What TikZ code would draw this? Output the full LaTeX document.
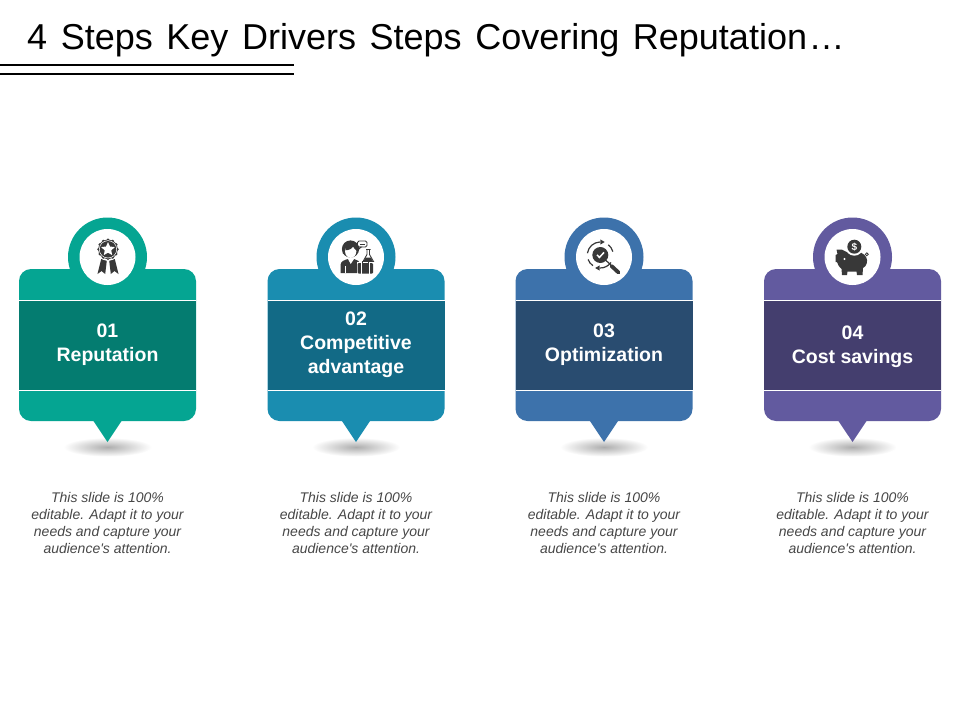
\documentclass[tikz,border=0pt]{standalone}
\usepackage{fontspec}
\usetikzlibrary{calc}
\setmainfont[Ligatures=TeXOff]{Liberation Sans}
\definecolor{tealA}{HTML}{05A592}
\definecolor{tealB}{HTML}{047C70}
\definecolor{blueA}{HTML}{1A8DB0}
\definecolor{blueB}{HTML}{126A86}
\definecolor{steelA}{HTML}{3D72AB}
\definecolor{steelB}{HTML}{294C70}
\definecolor{purpA}{HTML}{625A9F}
\definecolor{purpB}{HTML}{443E6E}
\definecolor{icon}{HTML}{383838}
\tikzset{
  titletext/.style={anchor=base west,inner sep=0pt,font=\fontsize{36}{40}\selectfont,text=black},
  steptext/.style={align=center,inner sep=0pt,text=white,font=\fontsize{19.5}{24}\selectfont\bfseries},
  notetext/.style={align=center,inner sep=0pt,text=black!72,font=\fontsize{14}{17}\selectfont\itshape},
  rulebar/.style={line width=2pt,black},
  iconline/.style={draw=icon,line width=.9pt,fill=none},
}
\begin{document}
\begin{tikzpicture}[x=1pt,y=-1pt]
\useasboundingbox (0,0) rectangle (960,720);
\fill[white] (0,0) rectangle (960,720);
\node[titletext] (title) at (27,49.5) {\spaceskip=13.6pt 4 Steps Key Drivers Steps Covering Reputation\kern1.5pt…};
\coordinate (r1a) at (0,65); \coordinate (r1b) at (294,65);
\coordinate (r2a) at (0,74); \coordinate (r2b) at (294,74);
\draw[rulebar] (r1a) -- (r1b);
\draw[rulebar] (r2a) -- (r2b);
\foreach \i/\cx/\ca/\cb/\lab/\ly in {
  1/107.5/tealA/tealB/{01\\Reputation}/345,
  2/356/blueA/blueB/{02\\Competitive\\advantage}/344.5,
  3/604/steelA/steelB/{03\\Optimization}/345,
  4/852.5/purpA/purpB/{04\\Cost savings}/347}{
  \begin{scope}[shift={(\cx,0)}]
    \shade[inner color=black!32,outer color=white] (0,447) ellipse [x radius=44,y radius=9.5];
    \fill[\ca] (0,257) circle [radius=39.5];
    \fill[\ca] (-14.7,420) -- (0,442) -- (14.7,420) -- cycle;
    \fill[\ca,rounded corners=12] (-88.5,269) rectangle (88.5,421);
    \fill[\cb] (-88.5,301) rectangle (88.5,390);
    \draw[white,line width=1.6pt] (-88.5,300.5) -- (88.5,300.5);
    \draw[white,line width=1pt] (-88.5,390.5) -- (88.5,390.5);
    \fill[white] (0,257) circle [radius=28];
    \node[steptext] (label\i) at (0,\ly) {\lab};
    \node[notetext] (note\i) at (0,522.5) {This slide is 100\%\\editable. Adapt it to your\\needs and capture your\\audience's attention.};
  \end{scope}
}
% ribbon icon
\begin{scope}[shift={(107.5,257)}]
  \fill[icon] (-6.3,2) -- (-0.7,3.7) -- (-2.3,17) -- (-6,14) -- (-10,17) -- cycle;
  \fill[icon] (7.3,2) -- (1.7,3.7) -- (3.3,17) -- (7,14) -- (11,17) -- cycle;
  \fill[white] (0.5,-7.7) circle [radius=11.5];
  \foreach \a in {0,30,...,330}{\fill[icon] ($(0.5,-7.7)+(\a:9.4)$) circle [radius=1.5];}
  \fill[icon] (0.5,-7.7) circle [radius=9.8];
  \fill[white] (0.5,-7.7) circle [radius=9];
  \fill[icon] (0.5,-7.7) circle [radius=8.3];
  \begin{scope}[shift={(0.5,-7.7)}]
    \fill[white] (-90:7.2) -- (-54:3.4) -- (-18:7.2) -- (18:3.4) -- (54:7.2) -- (90:3.4) -- (126:7.2) -- (162:3.4) -- (198:7.2) -- (234:3.4) -- cycle;
  \end{scope}
\end{scope}
% person, flask, briefcase icon
\begin{scope}[shift={(356,257)}]
  \fill[icon] (-15.5,16) -- (-15.5,8) .. controls (-15.5,4) and (-11,3) .. (-8,2) -- (-2,2) .. controls (1,3) and (4,4) .. (4.5,7) -- (1.5,7) -- (1.5,16) -- cycle;
  \fill[white] (-8,2) -- (-5.3,7) -- (-2,2) -- cycle;
  \draw[white,line width=.7pt] (-11,9) -- (-11,16);
  \fill[icon] (-5.5,-8) circle [radius=8.6];
  \fill[icon] (-13,-3) -- (-13.5,-9) -- (-9,-5) -- cycle;
  \fill[white] (-5.3,-5.5) ellipse [x radius=5.6,y radius=6.4];
  \fill[icon] (-10.5,-7) .. controls (-8,-6.5) and (-4,-8) .. (-3,-10.5) .. controls (-2,-9) and (-1,-7.5) .. (0,-7) -- (0,-13) -- (-10.5,-13) -- cycle;
  \draw[iconline,rounded corners=1.5] (1.5,-16) rectangle (11,-10) ;
  \fill[icon] (3.5,-10.5) -- (3,-7.5) -- (6.5,-10.5) -- cycle;
  \fill[icon] (4,-13.2) rectangle (8.5,-12.2);
  \draw[iconline] (10,-7.5) -- (14.5,-7.5) (11,-7.5) -- (11,-2.5) -- (7,4.5) -- (17.5,4.5) -- (13.5,-2.5) -- (13.5,-7.5);
  \fill[icon] (9.8,0.5) -- (14.8,0.5) -- (16.8,4.2) -- (7.6,4.2) -- cycle;
  \fill[white] (0.5,5) rectangle (18,17.5);
  \fill[icon,rounded corners=1] (1.5,6.2) rectangle (17,16.5);
  \draw[iconline] (6.5,6.2) -- (6.5,4.5) -- (12,4.5) -- (12,6.2);
  \draw[white,line width=.7pt] (5,6.2) -- (5,16.5) (13.5,6.2) -- (13.5,16.5);
\end{scope}
% magnifier icon
\begin{scope}[shift={(604,257)}]
  \fill[icon] (-3.7,-2) circle [radius=8];
  \draw[white,line width=1.5pt] (-7,-2.2) -- (-4.6,0.4) -- (0,-4.6);
  \draw[icon,line width=1.2pt] (-3.7,-2) ++(-172:13) arc [start angle=-172,end angle=-92,radius=13];
  \draw[icon,line width=1.2pt] (-3.7,-2) ++(-52:13) arc [start angle=-52,end angle=-15,radius=13];
  \draw[icon,line width=1.2pt] (-3.7,-2) ++(35:13) arc [start angle=35,end angle=92,radius=13];
  \draw[icon,line width=1.2pt] (-3.7,-2) ++(125:13) arc [start angle=125,end angle=160,radius=13];
  \fill[icon] (-3.7,-17.6) -- (-3.7,-12.4) -- (0.7,-15) -- cycle;
  \fill[icon] (-4.4,8.4) -- (-4.4,13.6) -- (-8.8,11) -- cycle;
  \draw[icon,line width=1.2pt] (2,3.5) -- (7,8);
  \draw[icon,line width=3.8pt,line cap=round] (7.5,9) -- (14.5,15.5);
\end{scope}
% piggy bank icon
\begin{scope}[shift={(852.5,257)}]
  \fill[icon] (-16,-7.5) -- (-11,-7.5) -- (-6,-5) .. controls (0,-7) and (8,-6) .. (12,-2) .. controls (15,1) and (15.5,5) .. (13,9) -- (10.5,11) -- (10,18) -- (4.5,18) -- (4,14.5) -- (-5,14.5) -- (-5.5,18) -- (-10.5,18) -- (-11,12) .. controls (-13,10) and (-15,8) .. (-15.5,5) -- (-17,5) -- (-17,-2) -- (-15,-3) -- cycle;
  \fill[white] (-8,2) circle [radius=1.1];
  \fill[white] (1.8,-10.3) circle [radius=9];
  \fill[icon] (1.8,-10.3) circle [radius=7];
  \node[inner sep=0pt,text=white,font=\fontsize{10}{10}\selectfont\bfseries] (dollar) at (1.8,-10.3) {\$};
  \draw[icon,line width=.8pt] (14.3,-2.7) circle [radius=1.5];
\end{scope}
\end{tikzpicture}
\end{document}
